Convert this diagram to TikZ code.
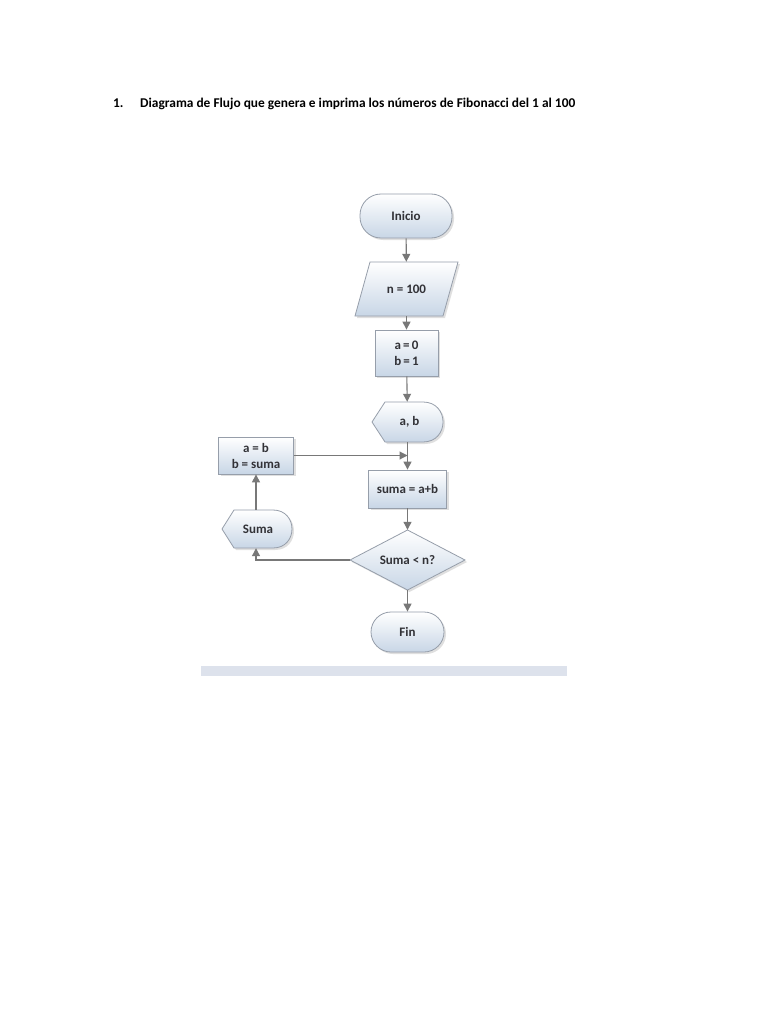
\documentclass[tikz,border=0pt]{standalone}
\usepackage{fontspec}
\setmainfont{Carlito}
\usetikzlibrary{shadows,arrows.meta}
\definecolor{shapeline}{RGB}{150,158,170}
\definecolor{shapebot}{RGB}{200,214,230}
\definecolor{arrowcol}{RGB}{120,120,120}
\definecolor{barcol}{RGB}{221,226,236}
\definecolor{txtcol}{RGB}{50,50,55}
\begin{document}
\begin{tikzpicture}[x=1pt,y=-1pt,
  fc/.style={draw=shapeline, line width=0.8pt, top color=white, bottom color=shapebot,
    drop shadow={opacity=0.25,shadow xshift=2pt,shadow yshift=-2pt}},
  lbl/.style={font=\fontsize{13}{16}\selectfont\bfseries, text=txtcol, align=center, inner sep=0pt},
  ghost/.style={lbl, draw=none},
  arr/.style={draw=arrowcol, line width=1.1pt, -{Triangle[length=8pt,width=8pt]}}]
\useasboundingbox (0,0) rectangle (768,1024);
\fill[white] (0,0) rectangle (768,1024);
% title
\node[anchor=base west, inner sep=0pt, font=\fontsize{13.4}{16}\selectfont\bfseries] (num) at (113,108) {1.};
\node[anchor=base west, inner sep=0pt, font=\fontsize{13.4}{16}\selectfont\bfseries] (title) at (140,108) {Diagrama de Flujo que genera e imprima los números de Fibonacci del 1 al 100};
% shapes
\node[fc, lbl, rounded corners=21pt, minimum width=92pt, minimum height=44pt] (ini) at (406,216) {Inicio};
\path[fc] (370,262) -- (458,262) -- (443,316) -- (355,316) -- cycle;
\node[ghost, minimum width=88pt, minimum height=54pt] (n) at (406.5,289) {n = 100};
\node[fc, lbl, minimum width=63pt, minimum height=46pt] (ab0) at (406.5,353) {a\,=\,0\\b\,=\,1};
\path[fc] (372,422) -- (385,402) -- (423,402) .. controls (449.7,402) and (449.7,442) .. (423,442) -- (385,442) -- cycle;
\node[ghost, minimum width=71pt, minimum height=40pt] (ab) at (407.5,422) {\hspace{4pt}a, b};
\node[fc, lbl, minimum width=78pt, minimum height=38pt] (suma) at (407.5,489) {suma = a+b};
\path[fc] (407.5,530) -- (465,560) -- (407.5,590) -- (350,560) -- cycle;
\node[ghost, minimum width=115pt, minimum height=60pt] (dec) at (407.5,560) {Suma < n?};
\node[fc, lbl, rounded corners=20pt, minimum width=73pt, minimum height=40pt] (fin) at (407.5,632) {Fin};
\node[fc, lbl, minimum width=75pt, minimum height=37pt] (asig) at (256,455.5) {a = b\\b = suma};
\path[fc] (222,529) -- (234,510) -- (273,510) .. controls (298.3,510) and (298.3,548) .. (273,548) -- (234,548) -- cycle;
\node[ghost, minimum width=70pt, minimum height=38pt] (sumo) at (256,529) {\hspace{4pt}Suma};
% bar
\fill[barcol] (201,666) rectangle (567,676);
% connectors
\draw[arr] (ini) -- (n);
\draw[arr] (n) -- (ab0);
\draw[arr] (ab0) -- (ab);
\draw[arr] (ab) -- (suma);
\draw[arr] (suma) -- (dec);
\draw[arr] (dec) -- (fin);
\draw[arr] (asig.east) -- (asig.east -| ab.south);
\draw[arr] (dec.west) -| (sumo.south);
\draw[arr] (sumo) -- (asig);
\end{tikzpicture}
\end{document}
